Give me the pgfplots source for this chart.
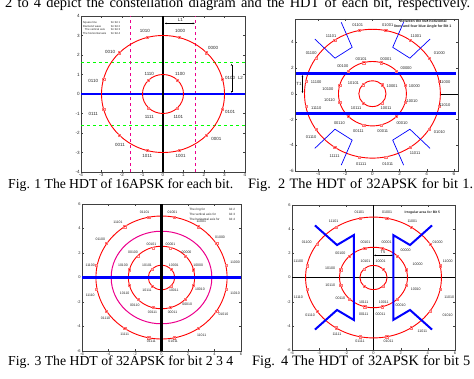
\documentclass[border=0pt]{standalone}
\usepackage{pgfplots}
\usepackage{pgfplotstable}
\pgfplotsset{compat=1.18}
\usepackage{fontspec}
\setmainfont{Liberation Serif}
\newfontfamily\labfont{Liberation Sans}
\usetikzlibrary{arrows.meta}

\pgfplotsset{
  hdt/.style={
    scale only axis, anchor=south west, clip=false,
    axis line style={black!75, line width=0.4bp},
    every tick/.style={black!75, line width=0.3bp},
    major tick length=1.6bp,
    tick label style={font=\labfont\fontsize{4.6}{5}\selectfont, text=black!85, inner sep=1.2bp},
    /pgf/number format/assume math mode=true,
  },
  ptlabels/.style={draw=none, mark=none, nodes near coords, point meta=explicit symbolic,
    every node near coord/.append style={anchor=center, inner sep=0pt, text=black!85,
      font=\labfont\fontsize{#1}{#1}\selectfont}},
  pts/.style={only marks, mark=square, mark size=1.1bp, draw=red!55,
    mark options={line width=0.35bp, fill=none, draw=red!55}},
}
\tikzset{
  lbl/.style={font=\labfont\fontsize{#1}{#1}\selectfont, text=black!85, inner sep=0pt},
  dar/.style={{Stealth[length=2bp,width=1.6bp]}-{Stealth[length=2bp,width=1.6bp]}, line width=0.35bp},
  capt/.style={anchor=base west, inner sep=0pt, font=\fontsize{#1}{15}\selectfont},
}

\pgfplotstableread{
x y
2.898 0.776
2.121 2.121
0.776 2.898
-0.776 2.898
-2.121 2.121
-2.898 0.776
-2.898 -0.776
-2.121 -2.121
-0.776 -2.898
0.776 -2.898
2.121 -2.121
2.898 -0.776
0.707 0.707
-0.707 0.707
-0.707 -0.707
0.707 -0.707
}\ptsA

\pgfplotstableread{
x y
4.904 0.975
4.157 2.778
2.778 4.157
0.975 4.904
-0.975 4.904
-2.778 4.157
-4.157 2.778
-4.904 0.975
-4.904 -0.975
-4.157 -2.778
-2.778 -4.157
-0.975 -4.904
0.975 -4.904
2.778 -4.157
4.157 -2.778
4.904 -0.975
2.415 0.647
1.768 1.768
0.647 2.415
-0.647 2.415
-1.768 1.768
-2.415 0.647
-2.415 -0.647
-1.768 -1.768
-0.647 -2.415
0.647 -2.415
1.768 -1.768
2.415 -0.647
0.707 0.707
-0.707 0.707
-0.707 -0.707
0.707 -0.707
}\ptsB

\pgfplotstableread{
x y l
-0.88 3.22 1010
0.83 3.22 1000
-2.58 2.14 0010
2.44 2.37 0000
-3.4 0.68 0110
3.27 0.82 0100
-3.4 -1.0 0111
3.27 -0.9 0101
-2.1 -2.6 0011
2.6 -2.3 0001
-0.77 -3.2 1011
0.86 -3.2 1001
-0.67 1.03 1110
0.83 1.03 1100
-0.67 -1.2 1111
0.75 -1.16 1101
}\labA

\pgfplotstableread{
x y l
-1.08 5.3 01101
1.13 5.35 01001
-3.04 4.44 11101
3.21 4.5 11001
-4.51 3.15 01100
4.93 3.15 01000
-4.14 0.88 11100
5.34 0.88 11000
-4.14 -1.11 11110
5.34 -0.85 11010
-4.51 -3.38 01110
4.93 -3.0 01010
-2.79 -4.86 11111
3.14 -4.6 11011
-0.83 -5.5 01111
1.13 -5.5 01011
-0.83 2.69 00101
1.0 2.69 00001
2.48 1.99 00000
-2.18 2.17 00100
-3.28 0.36 10100
3.09 0.57 10000
-3.16 -0.47 10110
2.92 -0.59 10010
-2.43 -2.27 00110
2.18 -2.27 00010
-1.03 -2.92 00111
0.76 -2.92 00011
-1.4 0.83 10101
1.45 0.62 10001
-1.2 -1.11 10111
1.0 -1.11 10011
}\labB

\pgfplotstableread{
x y l
-1.27 5.3 01101
0.83 5.3 01001
-3.29 4.5 11101
3.0 4.58 11001
-4.62 3.15 01100
4.42 3.31 01000
-5.38 1.0 11100
5.55 1.27 11000
-5.38 -1.48 11110
5.55 -1.26 11010
-4.22 -3.36 01110
4.67 -3.03 01010
-2.78 -4.65 11111
3.03 -4.7 11011
-0.76 -5.24 01111
0.88 -5.24 01011
-0.76 2.7 00101
0.68 2.7 00001
-2.15 2.07 00100
1.89 2.07 00000
-2.91 1.0 10100
2.77 1.0 10000
-2.78 -1.26 10110
2.9 -0.99 10010
-2.02 -2.23 00110
1.94 -2.15 00010
-0.68 -2.87 00111
0.83 -2.87 00011
-1.09 1.0 10101
0.93 1.0 10001
-1.09 -1.07 10111
0.93 -1.07 10011
}\labC

\pgfplotstableread{
x y l
-1.04 5.37 01101
1.01 5.37 01001
-2.94 4.65 11101
2.86 4.65 11001
-4.91 2.95 01100
4.72 2.95 01000
-5.53 1.34 11100
5.46 1.34 11000
-5.53 -1.61 11110
5.58 -1.61 11010
-4.67 -3.1 01110
5.46 -3.1 01010
-2.69 -4.71 11111
3.6 -4.44 11011
-1.0 -5.24 01111
1.1 -5.24 01011
-0.59 2.95 00101
0.96 2.95 00001
-2.44 2.02 00100
2.37 2.28 00000
-3.19 0.8 10100
3.24 1.07 10000
-3.19 -0.67 10110
3.11 -0.94 10010
-2.44 -1.75 00110
2.0 -2.29 00010
-0.72 -3.04 00111
0.52 -3.04 00011
-0.59 1.34 10101
0.52 1.34 10001
-0.72 -2.02 10111
0.76 -2.02 10011
}\labD

\begin{document}
\begin{tikzpicture}[x=1bp,y=1bp]
\useasboundingbox (0,0) rectangle (474,378);

% ---------- Fig. 1 ----------
\begin{axis}[hdt, at={(81bp,206bp)}, width=164bp, height=156bp,
  xmin=-4, xmax=4, ymin=-4, ymax=4, xtick={-4,...,4}, ytick={-4,...,4}]
\addplot[green, dashed, line width=0.7bp] coordinates {(-4,1.6) (4,1.6)};
\addplot[green, dashed, line width=0.7bp] coordinates {(-4,-1.6) (4,-1.6)};
\addplot[magenta, dashed, line width=0.8bp] coordinates {(-1.6,-4) (-1.6,4)};
\addplot[magenta, dashed, line width=0.8bp] coordinates {(1.6,-4) (1.6,4)};
\addplot[blue, line width=2.3bp] coordinates {(-4,0) (4,0)};
\addplot[black, line width=2.5bp] coordinates {(0,-4) (0,4)};
\draw[red, line width=0.9bp] (axis cs:0,0) ellipse [x radius=3, y radius=3];
\draw[red, line width=0.9bp] (axis cs:0,0) ellipse [x radius=1, y radius=1];
\addplot[pts] table {\ptsA};
\addplot[ptlabels=4.5] table[meta=l] {\labA};
\draw[dar] (axis cs:0.08,3.62) -- (axis cs:1.55,3.62);
\node[lbl=4.5] at (axis cs:0.85,3.8) {L1};
\draw[dar] (axis cs:3.35,0.06) -- (axis cs:3.35,1.55);
\node[lbl=4.5] at (axis cs:3.78,0.8) {L2};
\node[lbl=2.8, anchor=west] at (axis cs:-3.92,3.66) {Square line};
\node[lbl=2.8, anchor=west] at (axis cs:-3.92,3.48) {Diamond wave};
\node[lbl=2.8, anchor=west] at (axis cs:-3.82,3.30) {The vertical axis};
\node[lbl=2.8, anchor=west] at (axis cs:-3.92,3.12) {The horizontal axis};
\node[lbl=2.8, anchor=west] at (axis cs:-2.55,3.66) {for bit 1};
\node[lbl=2.8, anchor=west] at (axis cs:-2.55,3.48) {for bit 2};
\node[lbl=2.8, anchor=west] at (axis cs:-2.55,3.30) {for bit 3};
\node[lbl=2.8, anchor=west] at (axis cs:-2.55,3.12) {for bit 4};
\end{axis}

% ---------- Fig. 2 ----------
\begin{axis}[hdt, at={(295bp,207bp)}, width=163bp, height=152bp,
  xmin=-5.7, xmax=6.3, ymin=-6, ymax=5.8, xtick={-4,-2,...,6}, ytick={-6,-4,...,4}]
\addplot[black, line width=0.4bp] coordinates {(4.95,0) (6.3,0)};
\draw[red, line width=0.9bp] (axis cs:0,0) ellipse [x radius=5, y radius=5];
\draw[red, line width=0.9bp] (axis cs:0,0) ellipse [x radius=2.5, y radius=2.5];
\draw[red, line width=0.9bp] (axis cs:0,0) ellipse [x radius=1, y radius=1];
\addplot[blue, line width=2.8bp] coordinates {(-5.6,1.55) (6.15,1.55)};
\addplot[blue, line width=2.8bp] coordinates {(-5.6,-1.55) (6.15,-1.55)};
\addplot[blue, line width=0.7bp] coordinates {(-2.296,5.543) (-1.493,3.603) (-2.758,2.758) (-4.243,4.243)};
\addplot[blue, line width=0.7bp] coordinates {(2.296,5.543) (1.493,3.603) (2.758,2.758) (4.243,4.243)};
\addplot[blue, line width=0.7bp] coordinates {(-2.296,-5.543) (-1.493,-3.603) (-2.758,-2.758) (-4.243,-4.243)};
\addplot[blue, line width=0.7bp] coordinates {(2.296,-5.543) (1.493,-3.603) (2.758,-2.758) (4.243,-4.243)};
\addplot[pts] table {\ptsB};
\addplot[ptlabels=4] table[meta=l] {\labB};
\draw[dar] (axis cs:-5.15,0.05) -- (axis cs:-5.15,1.45);
\node[lbl=4.5, anchor=east] at (axis cs:-5.2,0.75) {T1};
\node[lbl=3.6, font=\labfont\bfseries\fontsize{3.6}{3.6}\selectfont] at (axis cs:3.75,5.62) {Between the two horizontal};
\node[lbl=3.6, font=\labfont\bfseries\fontsize{3.6}{3.6}\selectfont] at (axis cs:3.7,5.18) {lines and four blue Angle for Bit 1};
\end{axis}

% ---------- Fig. 3 ----------
\begin{axis}[hdt, at={(82bp,27bp)}, width=159bp, height=147bp,
  xmin=-6, xmax=6, ymin=-6, ymax=6, xtick={-6,-4,...,6}, ytick={-6,-4,...,6},
  tick label style={font=\labfont\fontsize{4}{4.5}\selectfont}]
\draw[red, line width=0.9bp] (axis cs:0,0) ellipse [x radius=4.95, y radius=5.02];
\draw[magenta, line width=1bp] (axis cs:0,0) ellipse [x radius=3.8, y radius=3.78];
\draw[red, line width=0.9bp] (axis cs:0,0) ellipse [x radius=2.5, y radius=2.55];
\draw[red, line width=0.9bp] (axis cs:0,0) ellipse [x radius=1, y radius=1];
\addplot[blue, line width=2.2bp] coordinates {(-6,0) (6,0)};
\addplot[black, line width=2.2bp] coordinates {(0,-6) (0,6)};
\addplot[pts] table {\ptsB};
\addplot[ptlabels=3.5] table[meta=l] {\labC};
\node[lbl=3.1, anchor=west] at (axis cs:2.09,5.52) {The ring for};
\node[lbl=3.1, anchor=west] at (axis cs:2.09,5.12) {The vertical axis for};
\node[lbl=3.1, anchor=west] at (axis cs:2.09,4.74) {The horizontal axis for};
\node[lbl=3.1, anchor=west] at (axis cs:5.1,5.52) {bit 2};
\node[lbl=3.1, anchor=west] at (axis cs:5.1,5.12) {bit 3};
\node[lbl=3.1, anchor=west] at (axis cs:5.1,4.74) {bit 4};
\end{axis}

% ---------- Fig. 4 ----------
\begin{axis}[hdt, at={(292bp,28bp)}, width=163bp, height=145bp,
  xmin=-6, xmax=6, ymin=-6, ymax=6, xtick={-6,-4,...,6}, ytick={-6,-4,...,6},
  tick label style={font=\labfont\fontsize{4}{4.5}\selectfont}]
\addplot[black, line width=0.4bp] coordinates {(-6,0) (6,0)};
\addplot[black, line width=0.4bp] coordinates {(0,-6) (0,6)};
\draw[red, line width=0.9bp] (axis cs:0,0) ellipse [x radius=5, y radius=5];
\draw[red, line width=0.9bp] (axis cs:0,0) ellipse [x radius=2.5, y radius=2.5];
\draw[red, line width=0.9bp] (axis cs:0,0) ellipse [x radius=1, y radius=1];
\addplot[blue, line width=2bp] coordinates {(4.31,4.31) (2.687,2.687) (1.454,3.51) (1.454,-3.51) (2.687,-2.687) (4.31,-4.31)};
\addplot[blue, line width=2bp] coordinates {(-4.31,4.31) (-2.687,2.687) (-1.454,3.51) (-1.454,-3.51) (-2.687,-2.687) (-4.31,-4.31)};
\addplot[pts] table {\ptsB};
\addplot[ptlabels=3.6] table[meta=l] {\labD};
\draw[dar] (axis cs:0.03,1.83) -- (axis cs:1.42,1.83);
\node[lbl=4] at (axis cs:0.7,2.12) {T5};
\node[lbl=3.4, font=\labfont\bfseries\fontsize{3.4}{3.4}\selectfont] at (axis cs:3.6,5.37) {Irregular area for Bit 5};
\end{axis}

% ---------- texts ----------
\node[capt=14.5] at (5,370.5)
  {\makebox[465bp][s]{2 to 4 depict the constellation diagram and the HDT of each bit, respectively.}};
\node[capt=13.8] at (8,189.7) {\makebox[225bp][s]{Fig. 1 The HDT of 16APSK for each bit.}};
\node[capt=14.4] at (248,189.7) {\makebox[225bp][s]{Fig. 2 The HDT of 32APSK for bit 1.}};
\node[capt=13.8] at (8,12.3) {\makebox[225bp][s]{Fig. 3 The HDT of 32APSK for bit 2 3 4}};
\node[capt=14.4] at (252,12.3) {\makebox[218bp][s]{Fig. 4 The HDT of 32APSK for bit 5}};
\end{tikzpicture}
\end{document}
